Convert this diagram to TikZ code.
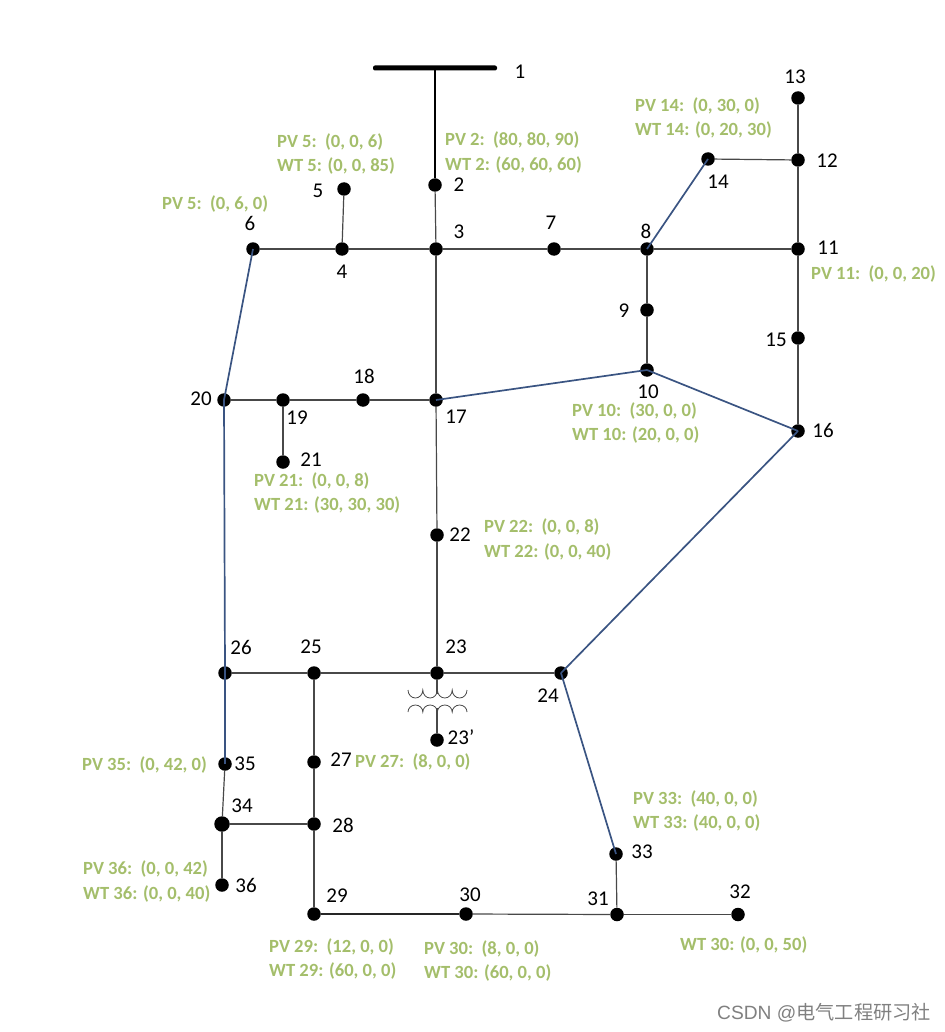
\documentclass[tikz,border=0pt]{standalone}
\usepackage{fontspec}
\setmainfont{Carlito}
\newfontfamily\cjkfont{Noto Sans CJK SC}
\newfontfamily\wmfont{Liberation Sans}
\definecolor{lblgreen}{HTML}{A4BE6B}
\definecolor{lineblue}{HTML}{3A5482}
\definecolor{linegray}{HTML}{484848}
\tikzset{
  x=1pt,y=-1pt,
  bus/.style={circle,fill=black,inner sep=0pt,minimum size=13.5pt},
  bigbus/.style={circle,fill=black,inner sep=0pt,minimum size=15.5pt},
  num/.style={inner sep=0pt,font=\fontsize{21}{21}\selectfont,text=black},
  pw/.style={inner sep=0pt,anchor=west,font=\fontsize{18.6}{18.6}\selectfont\bfseries,text=lblgreen},
  plain/.style={draw=linegray,line width=1.2pt},
  darkline/.style={draw=black!85,line width=1.8pt},
  feeder/.style={draw=lineblue,line width=1.7pt},
  coil/.style={draw=linegray,line width=.8pt},
}
\begin{document}
\begin{tikzpicture}
\useasboundingbox (0,0) rectangle (944,1032);
% buses
\node[inner sep=0pt,minimum width=124pt,minimum height=5pt,rectangle,rounded corners=2pt,fill=black] (n1) at (435,68) {};
\foreach \n/\x/\y in {2/435/185,3/436/249,4/342/249,5/344/189,6/253/249,7/554/249,8/647/249,9/647/310,10/647/370,11/798/249,12/798/160,13/798/98,14/708/159,15/798/338,16/798/431,17/436/400,18/363/400,19/283/400,20/224/400,21/283/462,22/437/535,23/437/673,24/561/673,25/314/673,26/225/673,27/314/762,28/314/824,29/314/914,30/466/914,31/617/914.5,32/738/914.5,33/616/854,35/225/764,36/222/885}
  \node[bus] (n\n) at (\x,\y) {};
\node[bigbus] (n34) at (222,824) {};
\node[bus] (n23p) at (437,740) {};
% plain lines
\coordinate (t1) at (435,68);
\draw[draw=black,line width=1.4pt] (t1) -- (n2);
\foreach \a/\b in {2/3,3/4,4/5,4/6,3/7,7/8,8/9,9/10,8/11,11/12,12/13,12/14,11/15,15/16,3/17,17/18,18/19,19/20,19/21,17/22,22/23,23/24,23/25,25/26,25/27,27/28,28/34,34/35,34/36,28/29,30/31,31/32,31/33}
  \draw[plain] (n\a) -- (n\b);
\draw[darkline] (n29) -- (n30);
% blue feeders
\foreach \a/\b in {6/20,20/26,26/35,8/14,17/10,10/16,16/24,24/33}
  \draw[feeder] (n\a.center) -- (n\b.center);
% transformer
\coordinate (tu) at (437,694);
\coordinate (tl) at (437,708);
\draw[plain] (n23) -- (tu);
\draw[plain] (tl) -- (n23p);
\draw[coil] (408,690) arc[start angle=180,end angle=360,x radius=7.4pt,y radius=8pt]
  arc[start angle=180,end angle=360,x radius=7.3pt,y radius=8pt]
  arc[start angle=180,end angle=360,x radius=7.4pt,y radius=8pt]
  arc[start angle=180,end angle=360,x radius=7.4pt,y radius=8pt];
\draw[coil] (408,712) arc[start angle=180,end angle=0,x radius=7.4pt,y radius=7pt]
  arc[start angle=180,end angle=0,x radius=7.3pt,y radius=7pt]
  arc[start angle=180,end angle=0,x radius=7.4pt,y radius=7pt]
  arc[start angle=180,end angle=0,x radius=7.4pt,y radius=7pt];
% numbers
\foreach \t/\x/\y in {1/520/72,2/459/185,3/459/232,4/342/272,5/318/191,6/250/223,7/551/223,8/646/231,9/624/311,10/648/392,11/828/248,12/827/161,13/795/77,14/718/182,15/776/340,16/823/430,17/456/417,18/364/376,19/297/418,20/201/399,21/311/460,22/460/535,23/456/647,24/548/696,25/311/647,26/241/647,27/341/760,28/343/825,29/337/896,30/470/895,31/598/899,32/740/892,33/642/852,34/242/806,35/245/764,36/246/885}
  \node[num] (l\t) at (\x,\y) {\t};
\node[num] (l23p) at (461,737) {23’};
% power labels
\foreach \i/\t/\x/\y in {
 a/{PV 5:\ \ (0, 0, 6)}/277/142.5,
 b/{WT 5: (0, 0, 85)}/277/166.5,
 c/{PV 5:\ \ (0, 6, 0)}/162/204.5,
 d/{PV 2:\ \ (80, 80, 90)}/445/140.5,
 e/{WT 2: (60, 60, 60)}/445/165.5,
 f/{PV 14:\ \ (0, 30, 0)}/635/106.5,
 g/{WT 14: (0, 20, 30)}/635/130.5,
 h/{PV 11:\ \ (0, 0, 20)}/811/274.5,
 i/{PV 10:\ \ (30, 0, 0)}/572/411.5,
 j/{WT 10: (20, 0, 0)}/572/435.5,
 k/{PV 21:\ \ (0, 0, 8)}/254/481,
 l/{WT 21: (30, 30, 30)}/254/505.5,
 m/{PV 22:\ \ (0, 0, 8)}/484/527.5,
 n/{WT 22: (0, 0, 40)}/484/551.5,
 o/{PV 27:\ \ (8, 0, 0)}/355/761.5,
 p/{PV 35:\ \ (0, 42, 0)}/82/764.5,
 q/{PV 33:\ \ (40, 0, 0)}/633/798.5,
 r/{WT 33: (40, 0, 0)}/633/822.5,
 s/{PV 36:\ \ (0, 0, 42)}/83/868.5,
 t/{WT 36: (0, 0, 40)}/83/893.5,
 u/{PV 29:\ \ (12, 0, 0)}/269/946.5,
 v/{WT 29: (60, 0, 0)}/269/970.5,
 w/{PV 30:\ \ (8, 0, 0)}/424/948.5,
 x/{WT 30: (60, 0, 0)}/424/972.5,
 y/{WT 30: (0, 0, 50)}/680/944.5}
  \node[pw] (p\i) at (\x,\y) {\t};
% watermark
\node[inner sep=0pt,anchor=west,text=black!50,font=\fontsize{19.2}{19.2}\selectfont] (wm) at (717,1013) {\wmfont CSDN @\cjkfont 电气工程研习社};
\end{tikzpicture}
\end{document}
